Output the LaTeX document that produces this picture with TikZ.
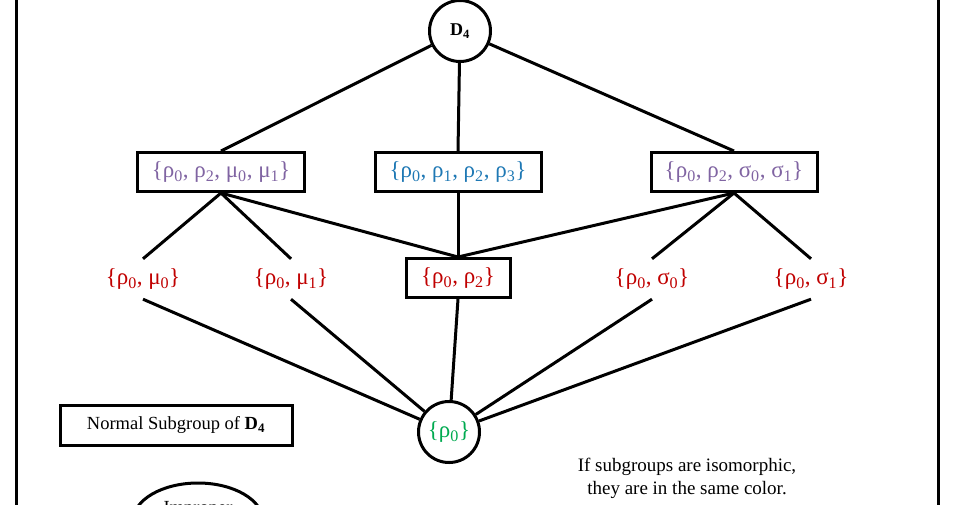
\documentclass[tikz,border=0pt]{standalone}
\usepackage{fontspec}
\usetikzlibrary{shapes.geometric}
\setmainfont{Liberation Serif}
\newcommand{\ix}[1]{\textsubscript{#1}}
\definecolor{pur}{RGB}{128,100,162}
\definecolor{blu}{RGB}{30,120,180}
\definecolor{rd}{RGB}{192,0,0}
\definecolor{grn}{RGB}{0,170,80}
\begin{document}
\begin{tikzpicture}[x=1pt,y=-1pt,
  ln/.style={line width=3pt},
  bx/.style={draw,line width=3pt,minimum height=39pt,inner xsep=4pt,font=\fontsize{23}{26}\selectfont},
  cir/.style={draw,circle,line width=3pt,minimum size=61pt,inner sep=0pt},
  lbl/.style={font=\fontsize{23}{26}\selectfont,minimum height=40pt,inner sep=0pt}]
\useasboundingbox (0,0) rectangle (960,504);
\clip (0,0) rectangle (960,504);
\draw[ln] (16,-5) -- (16,510);
\draw[ln] (938,-5) -- (938,510);
\node[cir] (D) at (460,31) {\fontsize{18}{20}\selectfont\textbf{D\ix{4}}};
\node[bx,text=pur,minimum width=167pt] (A) at (221,172) {\{ρ\ix{0}, ρ\ix{2}, μ\ix{0}, μ\ix{1}\}};
\node[bx,text=blu,minimum width=166pt] (B) at (458,172) {\{ρ\ix{0}, ρ\ix{1}, ρ\ix{2}, ρ\ix{3}\}};
\node[bx,text=pur,minimum width=166pt] (C) at (734,172) {\{ρ\ix{0}, ρ\ix{2}, σ\ix{0}, σ\ix{1}\}};
\node[lbl,text=rd] (m0) at (143,279) {\{ρ\ix{0}, μ\ix{0}\}};
\node[lbl,text=rd] (m1) at (291,279) {\{ρ\ix{0}, μ\ix{1}\}};
\node[bx,text=rd,minimum width=104pt] (R) at (458,278) {\{ρ\ix{0}, ρ\ix{2}\}};
\node[lbl,text=rd] (s0) at (652,279) {\{ρ\ix{0}, σ\ix{0}\}};
\node[lbl,text=rd] (s1) at (811,279) {\{ρ\ix{0}, σ\ix{1}\}};
\node[cir,text=grn,font=\fontsize{23}{26}\selectfont] (E) at (449,432) {\{ρ\ix{0}\}};
\draw[ln] (D) -- (A.north);
\draw[ln] (D) -- (B.north);
\draw[ln] (D) -- (C.north);
\draw[ln] (A.south) -- (m0.north);
\draw[ln] (A.south) -- (m1.north);
\draw[ln] (A.south) -- (R.north);
\draw[ln] (B.south) -- (R.north);
\draw[ln] (C.south) -- (R.north);
\draw[ln] (C.south) -- (s0.north);
\draw[ln] (C.south) -- (s1.north);
\draw[ln] (m0.south) -- (E);
\draw[ln] (m1.south) -- (E);
\draw[ln] (R.south) -- (E);
\draw[ln] (s0.south) -- (E);
\draw[ln] (s1.south) -- (E);
\node[draw,line width=3pt,minimum width=232pt,minimum height=40pt,font=\fontsize{18.5}{21}\selectfont] (N) at (176,425) {Normal Subgroup of \textbf{D\ix{4}}};
\node[draw,ellipse,line width=3pt,minimum width=130pt,minimum height=76pt,inner sep=0pt,font=\fontsize{18.5}{21}\selectfont,text depth=28pt] (I) at (198,521) {Improper};
\node[align=center,font=\fontsize{19}{23}\selectfont] (T) at (687,478) {If subgroups are isomorphic,\\they are in the same color.};
\end{tikzpicture}
\end{document}
